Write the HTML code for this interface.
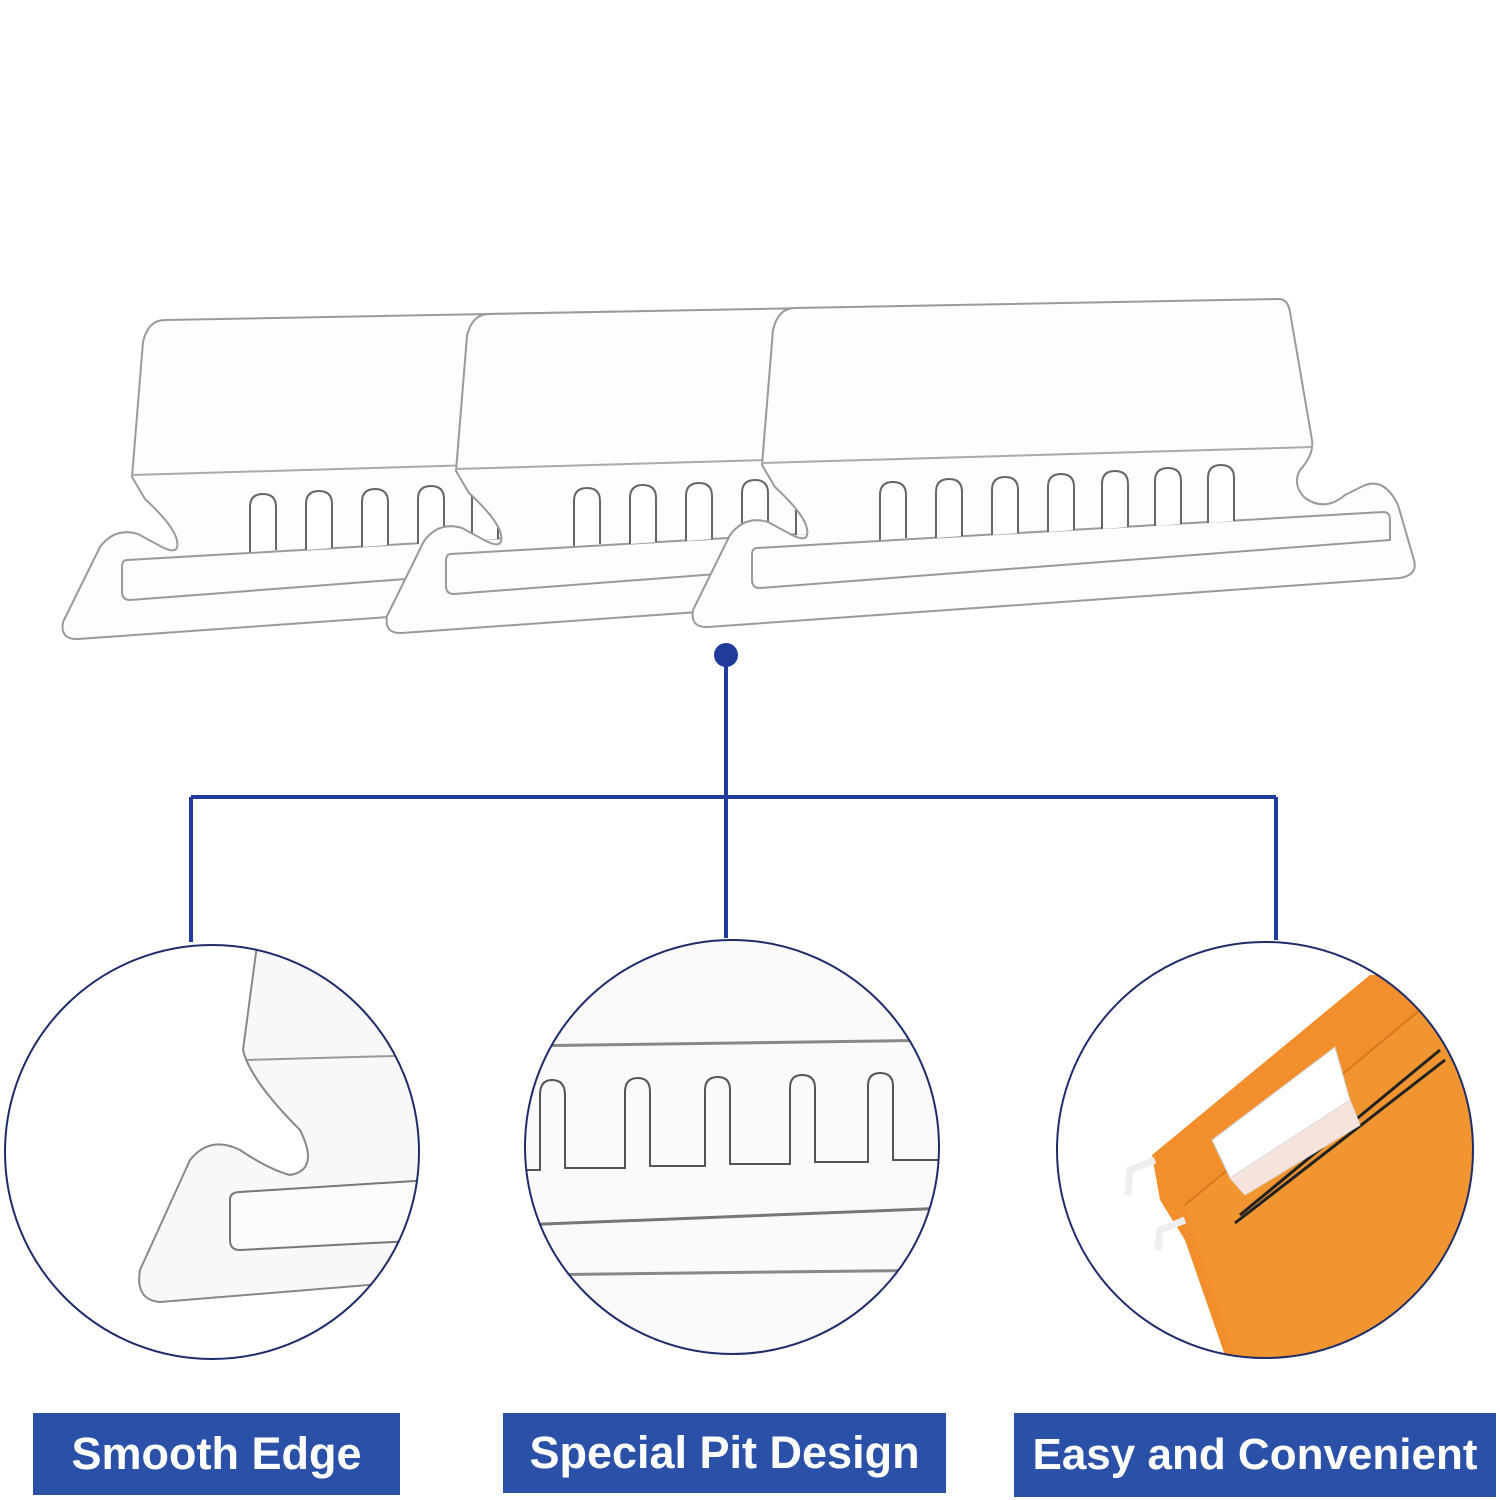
<!DOCTYPE html>
<html><head><meta charset="utf-8"><style>
html,body{margin:0;padding:0;background:#fff;}
.lbl{position:absolute;background:#2a50a8;color:#fff;font-family:"Liberation Sans",Arial,sans-serif;font-weight:bold;font-size:44px;display:flex;align-items:center;justify-content:center;}
</style></head><body>
<div style="position:relative;width:1500px;height:1500px;overflow:hidden">
<svg width="1500" height="1500" viewBox="0 0 1500 1500" style="position:absolute;left:0;top:0">
<defs>
<g id="tab" fill="#fdfdfd" stroke="#9a9a9a" stroke-width="2" stroke-linejoin="round">
<path d="M795,308 L1280,299 Q1288,300 1290,312 L1312,440 Q1314,455 1300,470 Q1292,485 1305,498 Q1325,512 1345,495 L1365,485 Q1385,478 1398,505 L1414,560 Q1418,575 1400,578 L708,627 Q690,628 693,610 L730,535 Q745,515 768,522 L792,535 Q812,545 806,525 Q800,510 775,487 L762,465 L773,330 Q778,308 795,308 Z"/>
<path d="M762,463 L1313,447" fill="none" stroke="#aaa"/>
<path d="M757,548 L1383,512 Q1390,512 1390,520 L1390,540 L760,588 Q752,588 752,580 L752,555 Q752,548 757,548 Z"/>
<g fill="#fff" stroke="#666" stroke-width="2">
<path d="M880,540 L880,495 Q880,482 893,482 Q906,482 906,495 L906,538"/>
<path d="M936,538 L936,492 Q936,479 949,479 Q962,479 962,492 L962,536"/>
<path d="M992,535 L992,490 Q992,477 1005,477 Q1018,477 1018,490 L1018,533"/>
<path d="M1048,532 L1048,487 Q1048,474 1061,474 Q1074,474 1074,487 L1074,530"/>
<path d="M1102,529 L1102,484 Q1102,471 1115,471 Q1128,471 1128,484 L1128,527"/>
<path d="M1155,526 L1155,481 Q1155,468 1168,468 Q1181,468 1181,481 L1181,524"/>
<path d="M1208,523 L1208,478 Q1208,465 1221,465 Q1234,465 1234,478 L1234,521"/>
</g>
</g>
<clipPath id="c1"><circle cx="212" cy="1152" r="207"/></clipPath>
<clipPath id="c2"><circle cx="732" cy="1147" r="207"/></clipPath>
<clipPath id="c3"><circle cx="1265" cy="1150" r="208"/></clipPath>
</defs>
<use href="#tab" transform="translate(-630,12)"/>
<use href="#tab" transform="translate(-306,6)"/>
<use href="#tab"/>

<g stroke="#1f3c9c" stroke-width="4" fill="none">
<line x1="726" y1="655" x2="726" y2="938"/>
<line x1="191" y1="797" x2="1276" y2="797"/>
<line x1="191" y1="797" x2="191" y2="942"/>
<line x1="1276" y1="797" x2="1276" y2="940"/>
</g>
<circle cx="726" cy="655" r="12" fill="#1f3c9c"/>

<g clip-path="url(#c1)">
<rect x="0" y="940" width="430" height="430" fill="#fff"/>
<path d="M257,945 L243,1050 Q250,1080 300,1130 Q320,1170 290,1175 Q270,1170 240,1150 Q210,1135 190,1160 L140,1270 Q135,1300 160,1302 L430,1280 L430,940 Z" fill="#f8f8f8" stroke="#888" stroke-width="2"/>
<line x1="247" y1="1060" x2="430" y2="1055" stroke="#999" stroke-width="2"/>
<path d="M240,1192 L430,1180 L430,1240 L240,1250 Q230,1250 230,1240 L230,1200 Q230,1192 240,1192 Z" fill="#fbfbfb" stroke="#777" stroke-width="2"/>
</g>
<circle cx="212" cy="1152" r="207" fill="none" stroke="#1e2d6a" stroke-width="2"/>

<g clip-path="url(#c2)">
<rect x="520" y="935" width="430" height="430" fill="#fafafa"/>
<line x1="520" y1="1046" x2="950" y2="1040" stroke="#888" stroke-width="3"/>
<path d="M520,1170 L540,1170 L540,1095 Q540,1080 552,1080 Q565,1080 565,1095 L565,1168 L625,1168 L625,1092 Q625,1078 638,1078 Q650,1078 650,1092 L650,1166 L705,1166 L705,1090 Q705,1077 718,1077 Q730,1077 730,1090 L730,1164 L790,1164 L790,1088 Q790,1075 802,1075 Q815,1075 815,1088 L815,1162 L868,1162 L868,1086 Q868,1073 880,1073 Q893,1073 893,1086 L893,1160 L950,1160" fill="none" stroke="#555" stroke-width="2"/>
<line x1="520" y1="1225" x2="950" y2="1208" stroke="#777" stroke-width="3"/>
<line x1="520" y1="1275" x2="950" y2="1270" stroke="#888" stroke-width="3"/>
</g>
<circle cx="732" cy="1147" r="207" fill="none" stroke="#1e2d6a" stroke-width="2"/>

<g clip-path="url(#c3)">
<rect x="1055" y="940" width="420" height="420" fill="#fff"/>
<path d="M1152,1155 L1370,975 L1480,975 L1480,1370 L1230,1370 L1185,1240 L1160,1200 Z" fill="#f28f2c"/>
<path d="M1185,1205 L1415,1015 L1480,1000 L1480,1370 L1240,1370 Z" fill="#f09530"/>
<line x1="1185" y1="1205" x2="1420" y2="1010" stroke="#d97a1a" stroke-width="2"/>
<line x1="1240" y1="1215" x2="1440" y2="1050" stroke="#222" stroke-width="3"/>
<line x1="1235" y1="1223" x2="1445" y2="1060" stroke="#222" stroke-width="3"/>
<path d="M1212,1140 L1335,1047 L1350,1100 L1230,1178 Z" fill="#fff" stroke="#ccc"/>
<path d="M1230,1178 L1350,1100 L1360,1125 L1245,1195 Z" fill="#f6e4dc" stroke="#ddd"/>
<path d="M1155,1160 L1130,1170 L1128,1195" fill="none" stroke="#eee" stroke-width="7"/>
<path d="M1185,1220 L1160,1230 L1158,1250" fill="none" stroke="#eee" stroke-width="7"/>
</g>
<circle cx="1265" cy="1150" r="208" fill="none" stroke="#1e2d6a" stroke-width="2"/>
</svg>
<div class="lbl" style="left:33px;top:1413px;width:367px;height:82px;font-size:45px;">Smooth Edge</div>
<div class="lbl" style="left:503px;top:1413px;width:443px;height:80px;font-size:45px;">Special Pit Design</div>
<div class="lbl" style="left:1014px;top:1413px;width:482px;height:84px;font-size:44px;">Easy and Convenient</div>
</div>
</body></html>
